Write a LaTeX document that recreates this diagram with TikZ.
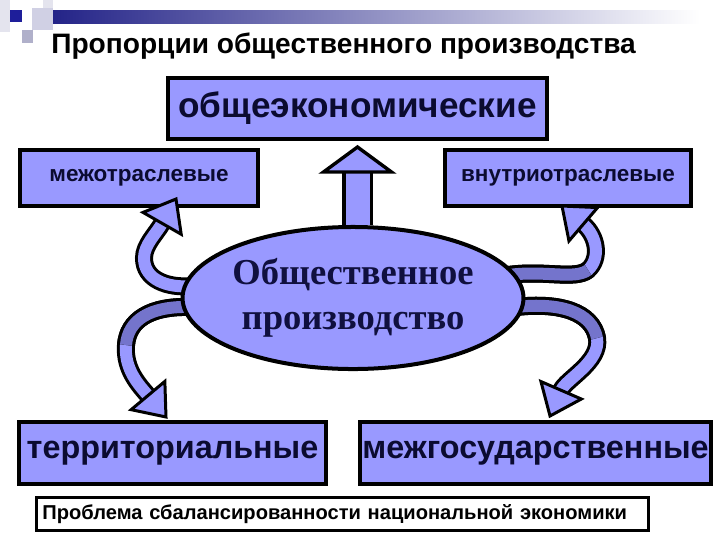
\documentclass[tikz,border=0pt]{standalone}
\usepackage{fontspec}
\setmainfont{Liberation Sans}
\newfontfamily\prodfont{Liberation Serif}
\usetikzlibrary{shapes.geometric,decorations.markings}

\definecolor{boxfill}{HTML}{9999FF}
\definecolor{twistfill}{HTML}{7474CC}
\definecolor{ink}{HTML}{0B0B30}
\definecolor{prodink}{HTML}{10103F}
\definecolor{barblue}{HTML}{242488}
\definecolor{sqnavy}{HTML}{1E1E9A}
\definecolor{sqpale}{HTML}{E4E4EE}
\definecolor{sqlight}{HTML}{D0D0E4}
\definecolor{sqgrey}{HTML}{B0B0CA}

\pgfdeclarelayer{front}
\pgfsetlayers{main,front}

\begin{document}
\begin{tikzpicture}[x=0.025cm, y=-0.025cm,
    box/.style={draw=black, line width=0.1cm, fill=boxfill, text=ink, inner sep=2pt},
    prodshape/.style={ellipse, draw=black, line width=0.1cm, fill=boxfill, text=prodink,
      inner sep=0pt, minimum width=8.4cm, minimum height=3.55cm, align=center},
    ribbon/.style={draw=boxfill, line width=0.3cm, preaction={draw=black, line width=0.45cm},
      shorten >=0.7cm, postaction={decorate},
      decoration={markings, mark=at position 0.9999 with {
        \draw[draw=black, fill=boxfill, line width=0.075cm, shorten >=0pt, line join=miter]
          (0,0) -- (-28,22) -- (-28,-22) -- cycle;}}},
    twist/.style={draw=twistfill, line width=0.3cm, preaction={draw=black, line width=0.45cm}},
    upshaft/.style={draw=boxfill, line width=0.6cm, preaction={draw=black, line width=0.775cm},
      shorten >=0.775cm, postaction={decorate},
      decoration={markings, mark=at position 0.9999 with {
        \draw[draw=black, fill=boxfill, line width=0.085cm, shorten >=0pt, line join=miter]
          (-6,0) -- (-31,34) -- (-31,-34) -- cycle;}}}]
  \useasboundingbox (0,0) rectangle (720,540);

  % Corner squares and title bar
  \fill[sqpale] (0,0) rectangle (10,32);
  \fill[sqpale] (43,0) rectangle (53,8);
  \fill[sqlight] (32,8) rectangle (53,30);
  \shade[left color=barblue, right color=white] (53,10) rectangle (700,23);
  \fill[sqgrey] (22,30) rectangle (33,43);
  \fill[sqnavy] (10,10) rectangle (22,22);

  % Title
  \node[anchor=base, font=\fontsize{20}{24}\selectfont\bfseries] (title) at (343.5,53)
    {Пропорции общественного производства};

  % Boxes
  \node[box, minimum width=9.475cm, minimum height=1.525cm,
    font=\fontsize{25}{30}\selectfont\bfseries] (gen) at (357.5,108.5) {общеэкономические};
  \node[box, minimum width=5.95cm, minimum height=1.4cm,
    font=\fontsize{16}{19}\selectfont\bfseries] (inter) at (139,178) {межотраслевые};
  \node[box, minimum width=6.15cm, minimum height=1.4cm,
    font=\fontsize{16}{19}\selectfont\bfseries] (intra) at (568,178) {внутриотраслевые};
  \node[box, minimum width=7.675cm, minimum height=1.55cm,
    font=\fontsize{23}{28}\selectfont\bfseries] (terr) at (172.5,453) {территориальные};
  \node[box, minimum width=8.775cm, minimum height=1.55cm,
    font=\fontsize{23}{28}\selectfont\bfseries] (state) at (535.5,453) {межгосударственные};
  \node[draw=black, line width=0.075cm, fill=white, text width=15cm, align=left,
    inner xsep=0.15cm, minimum height=0.825cm, font=\fontsize{14.3}{17}\selectfont\bfseries]
    (problem) at (342.5,514) {Проблема сбалансированности национальной экономики};

  % Centre ellipse
  \begin{pgfonlayer}{front}
    \node[prodshape, font=\prodfont\fontsize{26}{32}\selectfont\bfseries] (prod) at (353,298)
      {Общественное\\производство};
  \end{pgfonlayer}

  % Arrow up
  \draw[upshaft] (gen.south |- prod.north) -- (gen.south);

  % Curved arrows on the left
  \coordinate (bendL) at (144,258);
  \coordinate (twistL) at (126,345);
  \draw[ribbon] ([xshift=0.2cm]prod.176) .. controls (168,288) and (144,280) .. (bendL)
    .. controls (144,245) and (156,234) .. ([xshift=0.925cm,yshift=0.225cm]inter.south);
  \draw[ribbon] ([xshift=0.2cm]prod.183) .. controls (150,306) and (128,320) .. (twistL)
    .. controls (124,370) and (140,386) .. ([xshift=-0.1625cm,yshift=0.075cm]terr.north);
  \draw[twist] ([xshift=0.2cm]prod.183) .. controls (150,306) and (128,320) .. (twistL);

  % Curved arrows on the right
  \coordinate (twistR) at (588,270);
  \coordinate (twistS) at (597,338);
  \draw[ribbon] ([xshift=-0.2cm]prod.8) .. controls (545,270) and (575,280) .. (twistR)
    .. controls (601,258) and (597,236) .. ([xshift=-0.15cm,yshift=0.05cm]intra.south);
  \draw[twist] ([xshift=-0.2cm]prod.8) .. controls (545,270) and (575,280) .. (twistR);
  \draw[ribbon] ([xshift=-0.2cm]prod.-3) .. controls (560,302) and (592,312) .. (twistS)
    .. controls (601,362) and (566,379) .. ([xshift=0.3625cm,yshift=0.1cm]state.north);
  \draw[twist] ([xshift=-0.2cm]prod.-3) .. controls (560,302) and (592,312) .. (twistS);
\end{tikzpicture}
\end{document}
